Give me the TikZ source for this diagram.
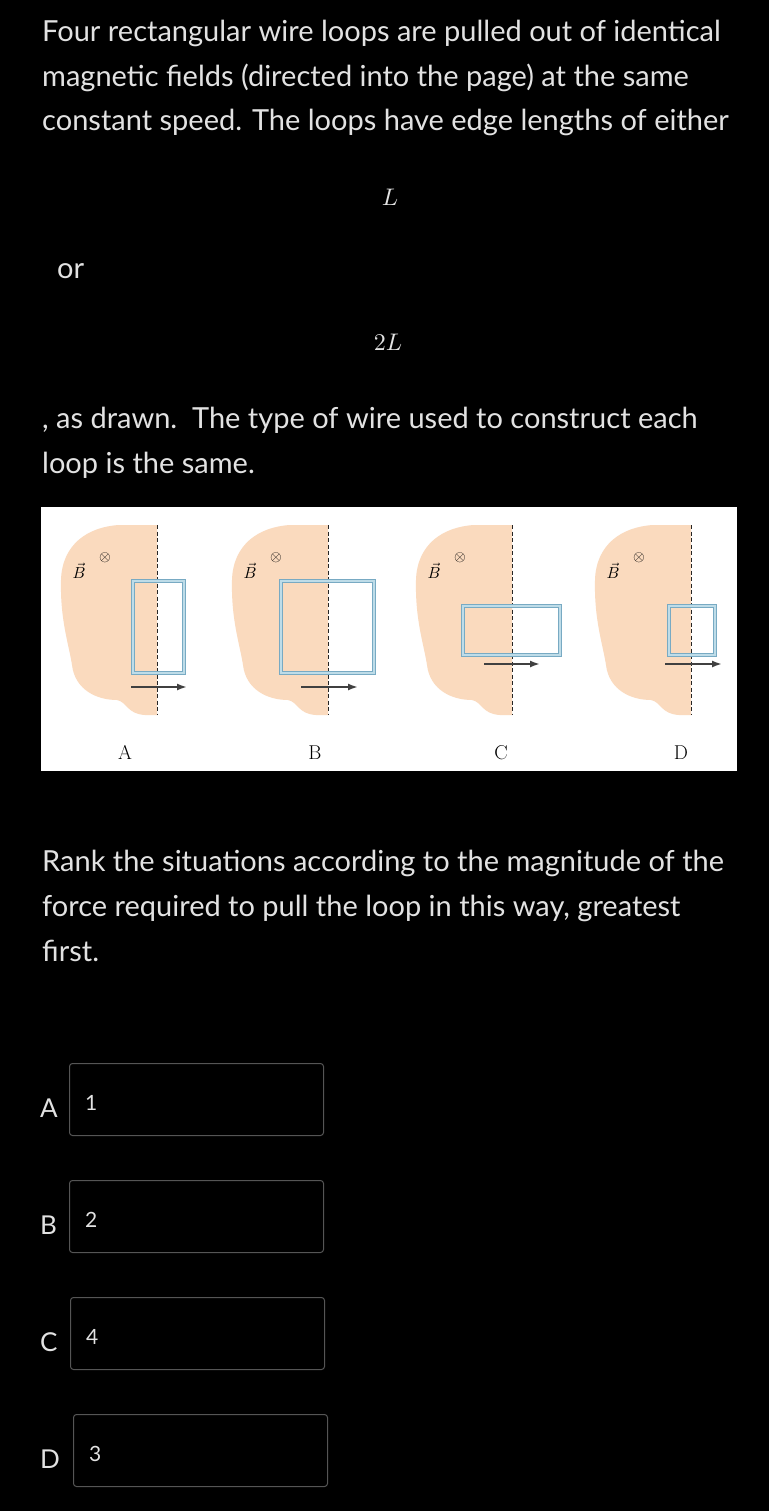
\documentclass[tikz,border=0pt]{standalone}
\usepackage{fontspec}
\setmainfont{Lato}
\newfontfamily\lmr{Latin Modern Roman}
\usetikzlibrary{arrows.meta}
\definecolor{txt}{RGB}{226,226,226}
\definecolor{blob}{RGB}{250,218,190}
\definecolor{loopout}{RGB}{120,170,195}
\definecolor{loopin}{RGB}{190,220,232}
\definecolor{boxb}{RGB}{85,85,85}
\tikzset{
 line/.style={anchor=base west,text=txt,font=\fontsize{29}{34}\selectfont,inner sep=0},
 wloop/.style={draw=loopout,double=loopin,double distance=2.2pt,line width=0.9pt},
 dline/.style={line width=1pt,dash pattern=on 4pt off 2.5pt,black!85},
 mv/.style={-{Latex[length=10pt,width=7pt]},line width=1.8pt,black!75},
 lab/.style={font=\fontsize{20}{22}\selectfont\lmr,anchor=base},
 ans/.style={draw=boxb,line width=1pt,rounded corners=3pt,fill=black,minimum width=254pt,minimum height=72pt,anchor=north west},
 albl/.style={text=txt,font=\fontsize{26}{30}\selectfont,anchor=base west,inner sep=0},
 num/.style={text=txt,font=\fontsize{21}{24}\selectfont,anchor=base west,inner sep=0}
}
\newcommand{\panel}[8]{% dashed x, loop x1,y1,x2,y2, arrow x1,x2,y
 \fill[blob] (#1,525) -- (#1-38,525) .. controls (#1-70,527) and (#1-95,545) .. (#1-96,580)
   .. controls (#1-97,620) and (#1-88,645) .. (#1-85,665)
   .. controls (#1-82,690) and (#1-60,700) .. (#1-40,700)
   .. controls (#1-30,702) and (#1-30,714) .. (#1-12,715) -- (#1,715) -- cycle;
 \draw[dline] (#1,525) -- (#1,715);
 \draw[wloop] (#2,#3) rectangle (#4,#5);
 \coordinate (s#1) at (#6,#8); \coordinate (e#1) at (#7,#8);
 \draw[mv] (s#1) -- (e#1);
 \node[inner sep=0,scale=1.6,transform shape] (bv#1) at (#1-78,571) {$\vec B$};
 \node[inner sep=0,scale=1.5,transform shape] (ot#1) at (#1-52,558) {$\otimes$};
}
\begin{document}
\begin{tikzpicture}[x=1pt,y=-1pt]
\useasboundingbox[fill=black] (0,0) rectangle (769,1511);
\node[line] (t1) at (42,42) {Four rectangular wire loops are pulled out of identical};
\node[line] (t2) at (42,87) {magnetic fields (directed into the page) at the same};
\node[line] (t3) at (42,131) {constant speed. The loops have edge lengths of either};
\node[text=txt,scale=2.4,transform shape] (mL) at (390,197) {$L$};
\node[line] (or) at (57,279) {or};
\node[text=txt,scale=2.4,transform shape] (m2L) at (388,342) {$2L$};
\node[line] (t4) at (42,428) {, as drawn.\ \ The type of wire used to construct each};
\node[line] (t5) at (42,473) {loop is the same.};
\fill[white] (41,507) rectangle (737,771);
\panel{157}{133}{581}{184}{673}{131}{187}{687}
\panel{328}{281}{581}{374}{673}{301}{358}{687}
\panel{512}{463}{606}{560}{655}{484}{540}{664}
\panel{691}{669}{606}{715}{655}{665}{722}{664}
\node[lab] (la) at (125,759) {A};
\node[lab] (lb) at (315,759) {B};
\node[lab] (lc) at (501,759) {C};
\node[lab] (ld) at (681,759) {D};
\node[line] (q1) at (42,871) {Rank the situations according to the magnitude of the};
\node[line] (q2) at (42,916) {force required to pull the loop in this way, greatest};
\node[line] (q3) at (42,961) {first.};
\node[ans] (ba) at (69,1063) {}; \node[albl] (xa) at (40,1117) {A}; \node[num] (na) at (85,1110) {1};
\node[ans] (bb) at (69,1180) {}; \node[albl] (xb) at (40,1234) {B}; \node[num] (nb) at (85,1227) {2};
\node[ans] (bc) at (70,1297) {}; \node[albl] (xc) at (40,1351) {C}; \node[num] (nc) at (86,1344) {4};
\node[ans] (bd) at (73,1414) {}; \node[albl] (xd) at (40,1468) {D}; \node[num] (nd) at (89,1461) {3};
\end{tikzpicture}
\end{document}
